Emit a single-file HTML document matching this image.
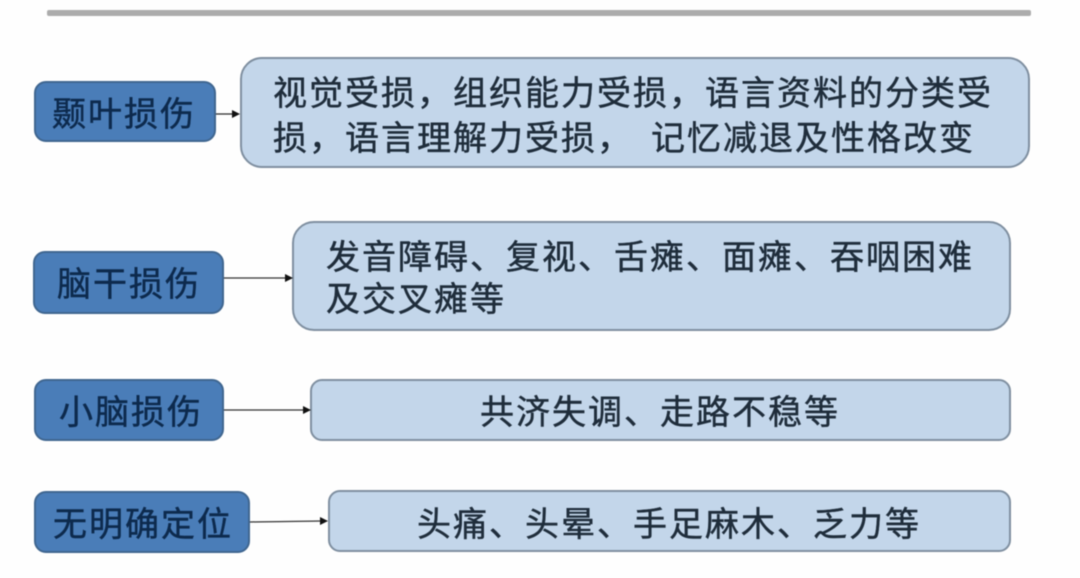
<!DOCTYPE html>
<html lang="zh">
<head>
<meta charset="utf-8">
<style>
html,body{margin:0;padding:0;background:#fefefe}
#p{position:relative;width:1080px;height:578px;overflow:hidden;background:#fefefe;filter:blur(.5px);font-family:"Liberation Sans","Noto Sans CJK SC",sans-serif}
.b{position:absolute;box-sizing:border-box}
.l{background:#4a7db8;border:2px solid #3f6690;border-radius:12px}
.r{background:#c3d6ea;border:2px solid #7f8fa0;border-radius:22px}
.t{position:absolute;white-space:pre;font-size:34px;line-height:44px;letter-spacing:2px;-webkit-text-stroke:.45px currentColor}
.tl{color:#0d2a4d}
.tr{color:#1f2d3b}
svg{position:absolute;left:0;top:0}
</style>
</head>
<body>
<div id="p">
<div class="b" style="left:47px;top:10px;width:984px;height:6px;background:#acacac;border-radius:2px"></div>

<div class="b l" style="left:34px;top:81px;width:182px;height:61px"></div>
<div class="b r" style="left:240px;top:57px;width:790px;height:111px"></div>
<div class="t tl" style="left:52px;top:93px">颞叶损伤</div>
<div class="t tr" style="left:273px;top:72px">视觉受损，组织能力受损，语言资料的分类受</div>
<div class="t tr" style="left:273px;top:117px">损，语言理解力受损，</div>
<div class="t tr" style="left:651px;top:117px">记忆减退及性格改变</div>

<div class="b l" style="left:33px;top:251px;width:191px;height:63px"></div>
<div class="b r" style="left:292px;top:221px;width:719px;height:110px"></div>
<div class="t tl" style="left:57px;top:263px">脑干损伤</div>
<div class="t tr" style="left:326px;top:236px">发音障碍、复视、舌瘫、面瘫、吞咽困难</div>
<div class="t tr" style="left:326px;top:278px">及交叉瘫等</div>

<div class="b l" style="left:34px;top:379px;width:190px;height:62px"></div>
<div class="b r" style="left:310px;top:379px;width:701px;height:62px;border-radius:12px"></div>
<div class="t tl" style="left:59px;top:391px">小脑损伤</div>
<div class="t tr" style="left:480px;top:391px">共济失调、走路不稳等</div>

<div class="b l" style="left:34px;top:491px;width:216px;height:62px"></div>
<div class="b r" style="left:328px;top:490px;width:683px;height:62px;border-radius:12px"></div>
<div class="t tl" style="left:53px;top:503px">无明确定位</div>
<div class="t tr" style="left:417px;top:503px">头痛、头晕、手足麻木、乏力等</div>

<svg width="1080" height="578" viewBox="0 0 1080 578">
<g stroke="#333" stroke-width="1.3" fill="none">
<line x1="216" y1="114" x2="232" y2="114"/>
<line x1="224" y1="278" x2="285" y2="278"/>
<line x1="224" y1="410" x2="303" y2="410"/>
<line x1="250" y1="522" x2="321" y2="521"/>
</g>
<g fill="#111">
<path d="M232 110l8 4-8 4z"/>
<path d="M285 274l8 4-8 4z"/>
<path d="M303 406l8 4-8 4z"/>
<path d="M320 517l8 4-8 4z"/>
</g>
</svg>
</div>
</body>
</html>
